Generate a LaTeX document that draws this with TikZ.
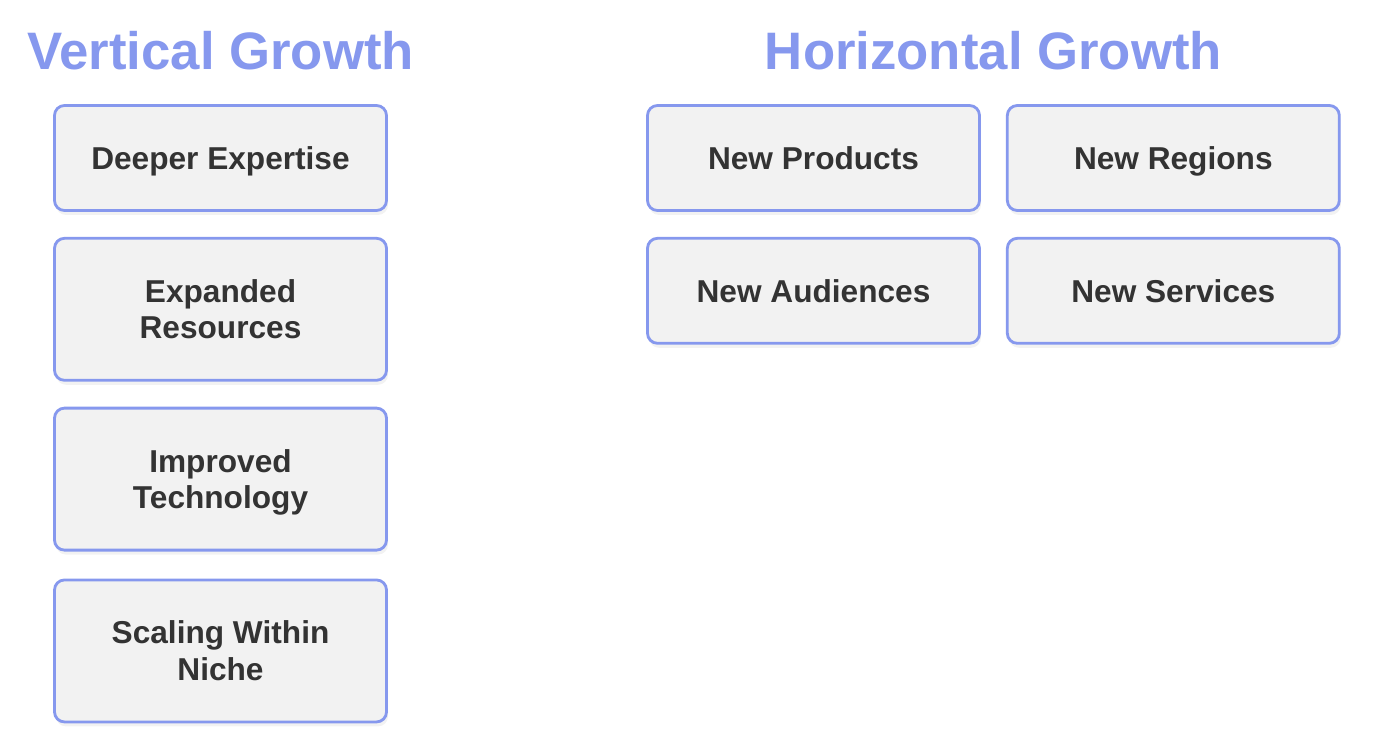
\documentclass[tikz,border=0pt]{standalone}
\usepackage{fontspec}
\setmainfont{Liberation Sans}
\usetikzlibrary{positioning,shadows}

\definecolor{growthblue}{RGB}{134,152,238}
\definecolor{boxfill}{RGB}{242,242,242}
\definecolor{boxtext}{RGB}{51,51,51}

\tikzset{
  growthbox/.style={draw=growthblue, line width=1.6pt, fill=boxfill,
    rounded corners=0.2cm, minimum width=6.64cm, minimum height=2.1cm,
    align=center, text=boxtext,
    font=\fontsize{18}{20.8}\selectfont\bfseries,
    text height=12.9pt, text depth=0pt,
    drop shadow={opacity=0.1, shadow xshift=0.03cm, shadow yshift=-0.09cm}},
  tallbox/.style={growthbox, minimum height=2.84cm, text height=33.7pt},
  growthtitle/.style={text=growthblue, font=\fontsize{30}{34}\selectfont\bfseries}
}

\begin{document}
\begin{tikzpicture}
  \useasboundingbox (0,0) rectangle (27.72,-15.02);

  % vertical column
  \node[growthbox] (deeper) at (4.41,-3.16) {Deeper Expertise};
  \node[tallbox, below=0.5cm of deeper] (resources) {Expanded\\Resources};
  \node[tallbox, below=0.5cm of resources] (technology) {Improved\\Technology};
  \node[tallbox, below=0.54cm of technology] (niche) {Scaling Within\\Niche};
  \node[growthtitle, above=0.7cm of deeper, anchor=base] (vtitle) {Vertical Growth};

  % horizontal grid
  \node[growthbox] (products) at (16.27,-3.16) {New Products};
  \node[growthbox, right=0.5cm of products] (regions) {New Regions};
  \node[growthbox, below=0.5cm of products] (audiences) {New Audiences};
  \node[growthbox, below=0.5cm of regions] (services) {New Services};
  \path (products.north) -- (regions.north) coordinate[midway] (htop);
  \node[growthtitle, above=0.7cm of htop, anchor=base] (htitle) {Horizontal Growth};
\end{tikzpicture}
\end{document}
